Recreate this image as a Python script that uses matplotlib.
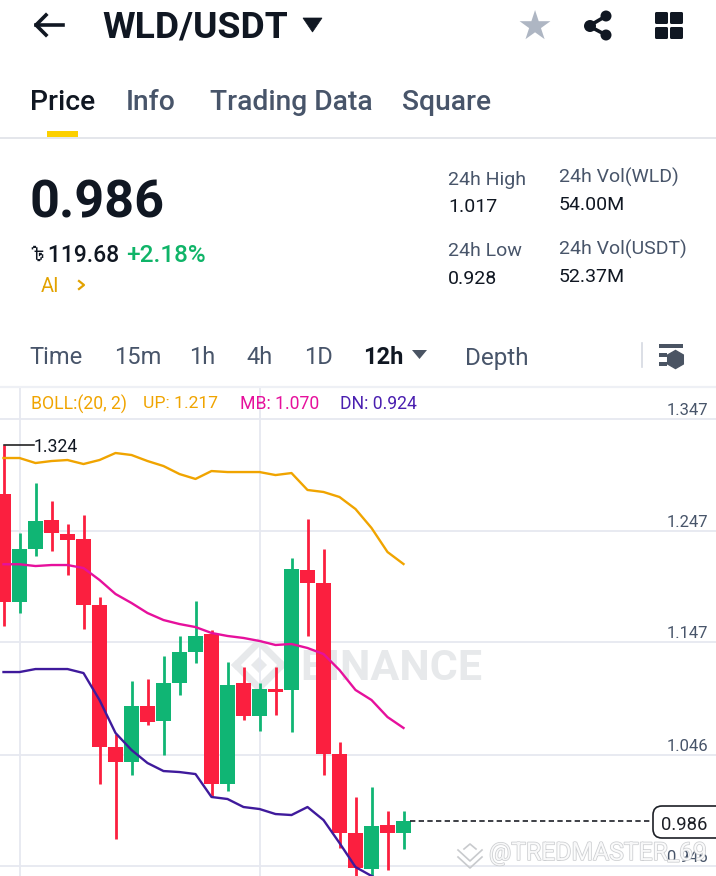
import numpy as np
import matplotlib
matplotlib.use("Agg")
import matplotlib.pyplot as plt
import matplotlib.patheffects as pe
from matplotlib import font_manager, ft2font
from matplotlib.patches import Rectangle, Polygon, FancyBboxPatch, Circle
from matplotlib.lines import Line2D
from matplotlib.transforms import Affine2D

plt.rcParams['font.family'] = ['Roboto', 'Noto Sans', 'DejaVu Sans']

# candles, oldest first
opens = [1.280, 1.183, 1.231, 1.257, 1.244, 1.240, 1.180, 1.053, 1.039, 1.090, 1.076, 1.110, 1.138,
         1.154, 1.020, 1.110, 1.081, 1.105, 1.104, 1.212, 1.200, 1.047, 0.976, 0.943, 0.983, 0.976]
highs = [1.324, 1.245, 1.290, 1.274, 1.253, 1.261, 1.188, 1.065, 1.112, 1.114, 1.135, 1.153, 1.184,
         1.158, 1.129, 1.125, 1.110, 1.125, 1.223, 1.258, 1.231, 1.057, 1.008, 1.017, 0.995, 0.995]
lows = [1.162, 1.173, 1.224, 1.229, 1.207, 1.159, 1.020, 0.970, 1.028, 1.073, 1.046, 1.100, 1.128,
        1.009, 1.013, 1.077, 1.067, 1.082, 1.066, 1.153, 1.028, 0.962, 0.928, 0.930, 0.942, 0.961]
closes = [1.183, 1.231, 1.256, 1.245, 1.239, 1.180, 1.053, 1.039, 1.090, 1.075, 1.110, 1.138, 1.153,
          1.020, 1.109, 1.081, 1.105, 1.102, 1.213, 1.200, 1.047, 0.976, 0.944, 0.982, 0.976, 0.986]

# bollinger bands
boll_up = [1.3124, 1.3124, 1.3079, 1.3097, 1.3106, 1.3070, 1.3106, 1.3169, 1.3151, 1.3097, 1.3052, 1.2980, 1.2936,
           1.3007, 1.2998, 1.2998, 1.2998, 1.2971, 1.2989, 1.2837, 1.2819, 1.2774, 1.2666, 1.2496, 1.2280, 1.2172]
boll_mb = [1.2170, 1.2170, 1.2154, 1.2163, 1.2163, 1.2136, 1.2029, 1.1903, 1.1822, 1.1732, 1.1669, 1.1633, 1.1606,
           1.1553, 1.1526, 1.1508, 1.1481, 1.1445, 1.1454, 1.1418, 1.1364, 1.1220, 1.1041, 1.0951, 1.0798, 1.0700]
boll_dn = [1.1202, 1.1202, 1.1229, 1.1229, 1.1229, 1.1193, 1.0951, 1.0655, 1.0502, 1.0385, 1.0313, 1.0304, 1.0286,
           1.0080, 1.0062, 0.9990, 0.9972, 0.9927, 0.9918, 0.9990, 0.9873, 0.9667, 0.9451, 0.9371, 0.9300, 0.9240]

price_ticks = [1.347, 1.247, 1.147, 1.046, 0.946]
vgrid_idx = [1, 16]
last_price = 0.986
peak_price = 1.324

GREEN = '#10b574'
RED = '#fb1f3f'
DARK = '#101722'
SLATE = '#48556a'
GRID = '#e6e8f0'
ICON = '#4a5463'

W, H = 716, 876
fig = plt.figure(figsize=(W / 100, H / 100), dpi=100, facecolor='white')
px = Affine2D().scale(1 / W, -1 / H).translate(0, 1) + fig.transFigure


def to_price(y):
    return 1.7237 - 0.000898 * y


def t(x, y, s, size, color=DARK, weight='normal', ha='left', **kw):
    return fig.text(x, y, s, fontsize=size, color=color, fontweight=weight, ha=ha, va='center',
                    transform=px, **kw)


def taka_family():
    for f in font_manager.fontManager.ttflist:
        try:
            if 0x09F3 in ft2font.FT2Font(f.fname).get_charmap():
                return f.name
        except Exception:
            pass
    return 'DejaVu Sans'


# chart area, index 0 sits at pixel 3.5 and candles are 16 px apart
top, bottom = 387, 876
ax = fig.add_axes([0, 0, 1, (bottom - top) / H], facecolor='none')
ax.set_xlim(-3.5 / 16, (W - 3.5) / 16)
ax.set_ylim(to_price(bottom), to_price(top))
for s in ax.spines.values():
    s.set_visible(False)
ax.set_xticks(vgrid_idx)
ax.set_yticks(price_ticks)
ax.tick_params(length=0, labelbottom=False, labelleft=False)
ax.grid(True, color=GRID, lw=1.3)
ax.set_axisbelow(True)

xs = np.arange(len(opens))
for i in xs:
    col = GREEN if closes[i] >= opens[i] else RED
    ax.vlines(i, lows[i], highs[i], color=col, lw=2.0, zorder=3)
    b0, b1 = sorted([opens[i], closes[i]])
    ax.bar(i, b1 - b0, bottom=b0, width=14.5 / 16, color=col, zorder=3, lw=0)

ax.plot(xs, boll_up, color='#f0a400', lw=1.7, zorder=4)
ax.plot(xs, boll_mb, color='#e6109c', lw=1.7, zorder=4)
ax.plot(xs, boll_dn, color='#3f1a9c', lw=1.7, zorder=4)

# last price line and peak marker
ax.plot([25.4, 40.5], [last_price, last_price], color='#1c1f26', lw=1.2, ls=(0, (3.2, 2)), zorder=4)
ax.plot([0, 1.9], [peak_price, peak_price], color='#111111', lw=1.1, zorder=5)
ax.annotate('1.324', (1.9, peak_price), xytext=(0, -1.2), textcoords='offset points', fontsize=12.7,
            color=DARK, va='center', ha='left', zorder=5)

for p in price_ticks:
    ax.annotate(f'{p:.3f}', (1, p), xycoords=('axes fraction', 'data'), xytext=(-5.8, 6.2),
                textcoords='offset points', ha='right', va='center', fontsize=12, color=SLATE)

box = FancyBboxPatch((653, 806), 72, 32, boxstyle='round,pad=0,rounding_size=9', fc='white', ec='#1c1f26',
                     lw=1.2, transform=px, zorder=6)
fig.add_artist(box)
t(707, 824.5, '0.986', 13.3, '#1c1f26', ha='right', zorder=7)

# BINANCE watermark under the candles
LOGO = '#e7e9eb'
cx, cy = 259, 665
fig.add_artist(Polygon([(cx, cy - 8), (cx + 8, cy), (cx, cy + 8), (cx - 8, cy)], fc=LOGO, ec='none',
                       transform=px, zorder=-1))
for sx, sy in [(1, 1), (-1, 1), (1, -1), (-1, -1)]:
    fig.add_artist(Line2D([cx + sx * 23, cx + sx * 12, cx + sx * 1], [cy, cy + sy * 11, cy + sy * 22],
                          color=LOGO, lw=5, transform=px, zorder=-1))
t(300, 669, 'BINANCE', 31, LOGO, 'bold', zorder=-1)

# top bar
fig.add_artist(Line2D([36, 63], [25, 25], color=DARK, lw=2.6, transform=px))
fig.add_artist(Line2D([46, 36, 46], [15, 25, 35], color=DARK, lw=2.6, transform=px))
t(102, 27, 'WLD/USDT', 26.8, DARK, 'bold')
fig.add_artist(Polygon([(303, 18), (322, 18), (312.5, 32)], fc=DARK, ec=DARK, lw=0.5, transform=px))
fig.text(534, 29, '★', fontsize=29, color='#aeb6c3', ha='center', va='center', transform=px,
         family='DejaVu Sans')
for a, b in [((589, 26), (606, 16)), ((589, 26), (606, 35))]:
    fig.add_artist(Line2D([a[0], b[0]], [a[1], b[1]], color=DARK, lw=2.6, transform=px))
for c, r in [((606, 16), 5.5), ((590, 26), 6), ((606, 35), 5.5)]:
    fig.add_artist(Circle(c, r, fc=DARK, ec='none', transform=px))
for x0, y0 in [(655, 12), (670, 12), (655, 27), (670, 27)]:
    fig.add_artist(FancyBboxPatch((x0, y0), 13, 12, boxstyle='round,pad=0,rounding_size=1.5', fc=DARK,
                                  ec='none', transform=px))

# tabs
t(30, 103, 'Price', 20.3, DARK, 'medium')
t(126, 103, 'Info', 20.3, SLATE, 'medium')
t(210, 103, 'Trading Data', 20.3, SLATE, 'medium')
t(402, 103, 'Square', 20.3, SLATE, 'medium')
fig.add_artist(Rectangle((47, 131), 31, 6, fc='#fcd000', ec='none', transform=px))
fig.add_artist(Line2D([0, W], [137.5, 137.5], color='#dfe2e8', lw=1.2, transform=px))

# price block
t(30, 203, '0.986', 37.5, DARK, 'bold')
t(25, 255, '৳119.68', 16.5, DARK, 'medium', family=['Roboto', taka_family()])
t(126, 255, '+2.18%', 17.5, '#0fb468', 'medium')
t(41, 286, 'AI', 14.5, '#e2a200')
fig.add_artist(Line2D([79, 84, 79], [281, 285, 289], color='#e2a200', lw=1.6, transform=px))

t(448, 180, '24h High', 14, SLATE)
t(448, 207, '1.017', 14, DARK)
t(448, 251, '24h Low', 14, SLATE)
t(448, 279, '0.928', 14, DARK)
t(559, 177, '24h Vol(WLD)', 14, SLATE)
t(559, 205, '54.00M', 14, DARK)
t(559, 249, '24h Vol(USDT)', 14, SLATE)
t(559, 277, '52.37M', 14, DARK)

# interval bar
t(29, 358, 'Time', 17, SLATE)
t(114, 358, '15m', 17, SLATE)
t(189.5, 358, '1h', 17, SLATE)
t(246, 358, '4h', 17, SLATE)
t(304, 358, '1D', 17, SLATE)
t(363, 358, '12h', 17, DARK, 'bold')
fig.add_artist(Polygon([(412, 350), (427, 350), (419.5, 359)], fc=ICON, ec='none', transform=px))
t(465, 358, 'Depth', 17.5, SLATE)
fig.add_artist(Line2D([641.5, 641.5], [343, 367], color='#d5d9e2', lw=1.2, transform=px))
fig.add_artist(Rectangle((659, 344), 24, 4, fc=ICON, ec='none', transform=px))
fig.add_artist(Rectangle((659, 353), 8, 4, fc=ICON, ec='none', transform=px))
fig.add_artist(Rectangle((659, 362), 8, 4, fc=ICON, ec='none', transform=px))
fig.add_artist(Line2D([675], [359], marker='h', ms=13, mfc=ICON, mec=ICON, transform=px))
fig.add_artist(Circle((675, 359), 2.8, fc='white', ec='none', transform=px))
fig.add_artist(Line2D([0, W], [386.5, 386.5], color='#eef0f5', lw=1.6, transform=px))

# boll legend
t(31, 404, 'BOLL:(20, 2)', 12.7, '#f0a400')
t(143, 404, 'UP: 1.217', 12.6, '#f0a400')
t(240, 404, 'MB: 1.070', 12.7, '#e6109c')
t(340, 404, 'DN: 0.924', 12.7, '#4a1fb0')

# repost watermark on top of everything
stroke = [pe.withStroke(linewidth=1.1, foreground='#c4c6c9')]
fig.text(489, 853, '@TREDMASTER_69', fontsize=17.8, color='white', ha='left', va='center', transform=px,
         path_effects=stroke, zorder=8, alpha=0.85)
for off in (0, 7):
    fig.add_artist(Line2D([458, 470, 482], [850 + off, 861 + off, 850 + off], color='#c8cacd', lw=1.2,
                          transform=px, zorder=8))
fig.add_artist(Line2D([464, 470, 476], [849, 844, 849], color='#c8cacd', lw=1.2, transform=px, zorder=8))

fig.savefig('out.png', dpi=100)
